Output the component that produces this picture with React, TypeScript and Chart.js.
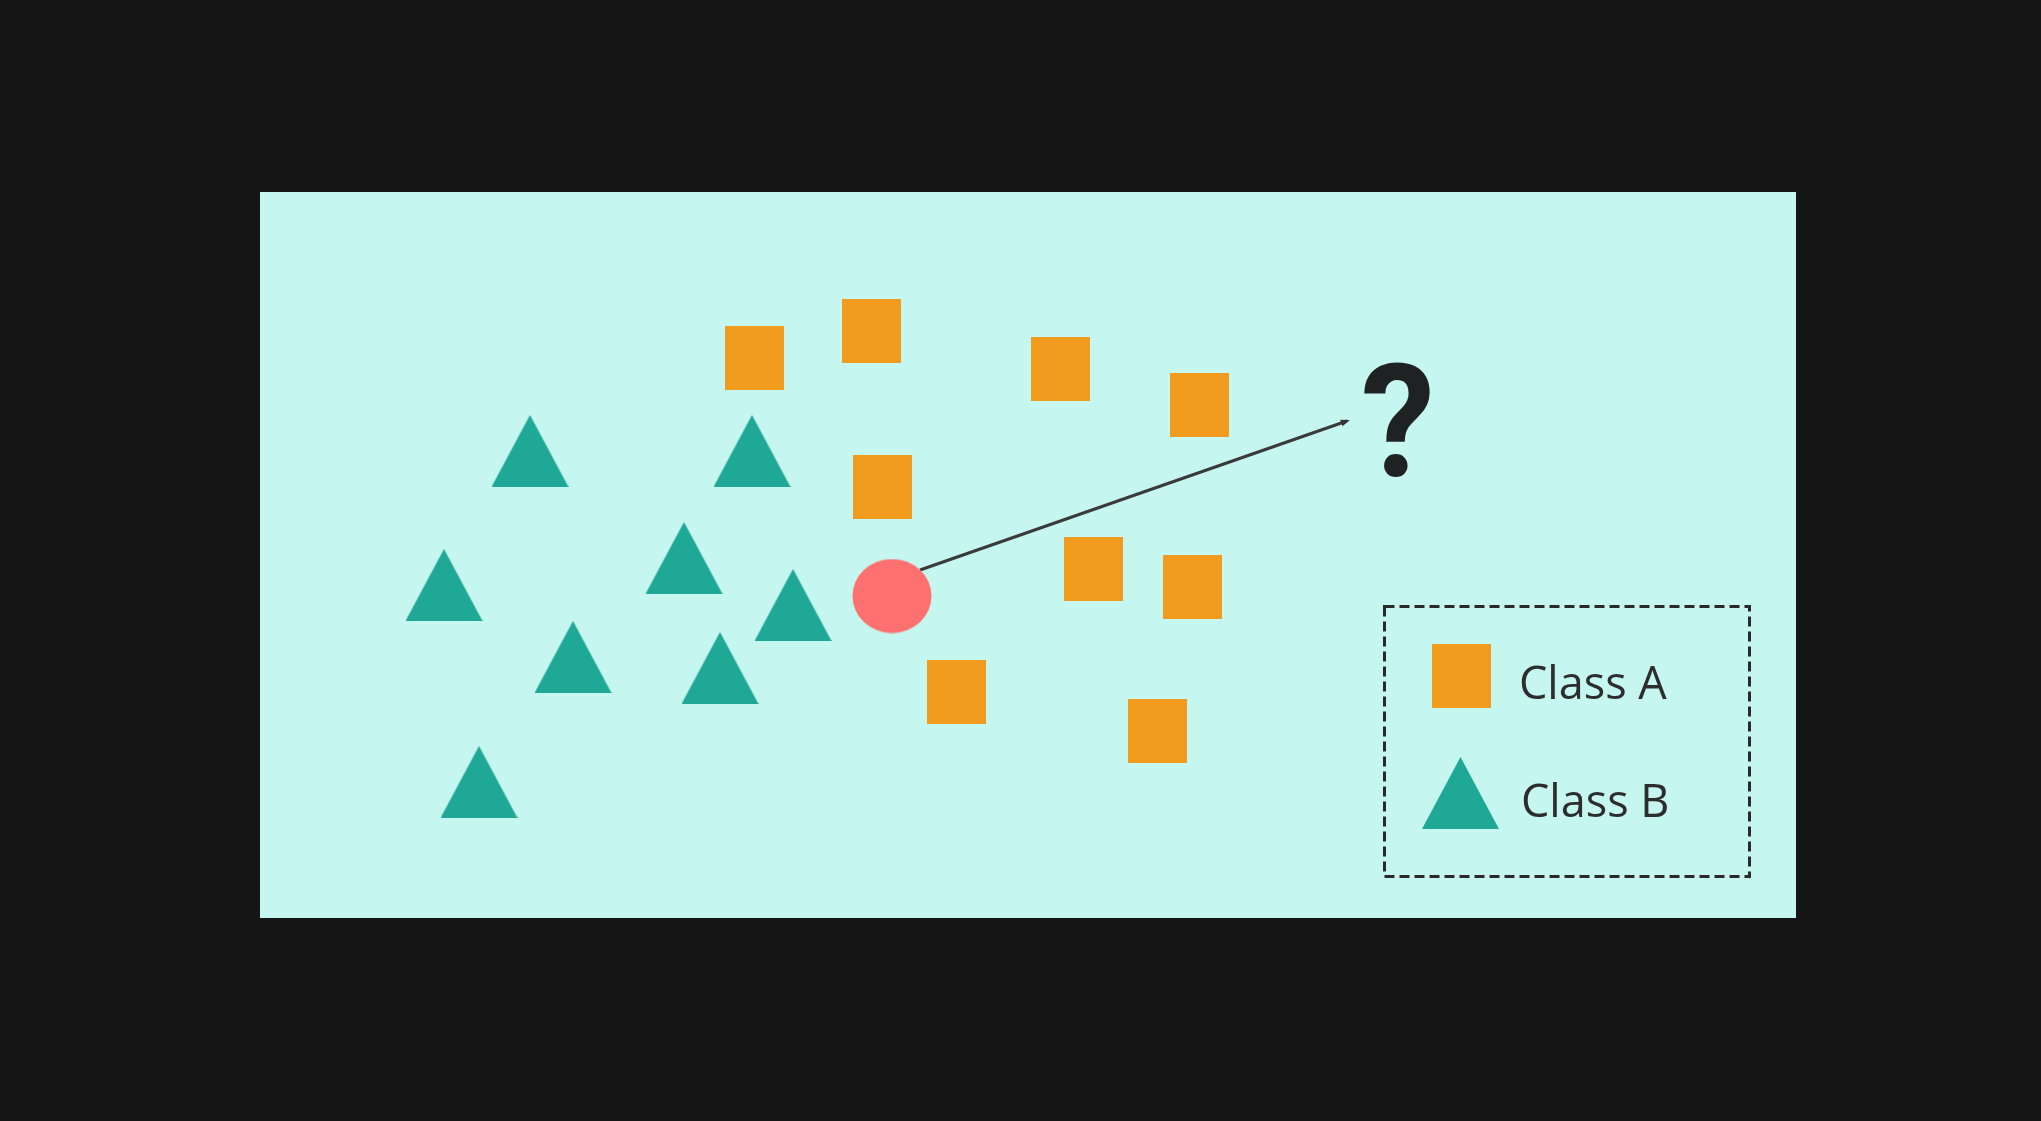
import React, { useEffect, useRef } from "react";
import { Chart, registerables } from "chart.js";

Chart.register(...registerables);

// Diagram values (panel units, origin at the top-left of the mint panel, y grows downward)
const classAX = [494, 611, 800, 939, 622, 833, 932, 696, 897];
const classAY = [166, 139, 177, 213, 295, 377, 395, 500, 539];
const classBX = [270, 492, 184, 424, 533, 313, 460, 219];
const classBY = [259, 259, 393, 366, 413, 465, 476, 590];
const queryX = [632];
const queryY = [404];
const arrowX = [660, 1087];
const arrowY = [378, 229];
const legendLabels = ["Class A", "Class B"];
const unknownLabel = "?";

const COLOR_A = "#f29c1f";
const COLOR_B = "#1fa896";
const COLOR_Q = "#ff7070";
const PANEL_BG = "#c5f6ef";
const PAGE_BG = "#151515";

function makeSquare(): HTMLCanvasElement {
  const c = document.createElement("canvas");
  c.width = 59;
  c.height = 64;
  const g = c.getContext("2d")!;
  g.fillStyle = COLOR_A;
  g.fillRect(0, 0, 59, 64);
  return c;
}

function makeTriangle(): HTMLCanvasElement {
  const c = document.createElement("canvas");
  c.width = 77;
  c.height = 72;
  const g = c.getContext("2d")!;
  g.fillStyle = COLOR_B;
  g.beginPath();
  g.moveTo(38.5, 0);
  g.lineTo(77, 72);
  g.lineTo(0, 72);
  g.closePath();
  g.fill();
  return c;
}

function makeEllipse(): HTMLCanvasElement {
  const c = document.createElement("canvas");
  c.width = 80;
  c.height = 75;
  const g = c.getContext("2d")!;
  g.fillStyle = COLOR_Q;
  g.beginPath();
  g.ellipse(40, 37.5, 39.5, 37, 0, 0, Math.PI * 2);
  g.fill();
  return c;
}

export default function App() {
  const ref = useRef<HTMLCanvasElement | null>(null);

  useEffect(() => {
    if (!ref.current) return;
    const sq = makeSquare();
    const tri = makeTriangle();
    const ell = makeEllipse();

    const panelPlugin = {
      id: "panelBg",
      beforeDraw(chart: any) {
        const { ctx, chartArea: a } = chart;
        ctx.save();
        ctx.fillStyle = PANEL_BG;
        ctx.fillRect(a.left, a.top, a.right - a.left, a.bottom - a.top);
        ctx.restore();
      },
    };

    const extrasPlugin = {
      id: "extras",
      afterDatasetsDraw(chart: any) {
        const { ctx, chartArea: a } = chart;
        const xs = chart.scales.x;
        const ys = chart.scales.y;
        // arrow head
        const x0 = xs.getPixelForValue(arrowX[0]);
        const y0 = ys.getPixelForValue(arrowY[0]);
        const x1 = xs.getPixelForValue(arrowX[1]);
        const y1 = ys.getPixelForValue(arrowY[1]);
        const ang = Math.atan2(y1 - y0, x1 - x0);
        ctx.save();
        ctx.translate(x1, y1);
        ctx.rotate(ang);
        ctx.fillStyle = "#333333";
        ctx.beginPath();
        ctx.moveTo(3, 0);
        ctx.lineTo(-6, -3.5);
        ctx.lineTo(-6, 3.5);
        ctx.closePath();
        ctx.fill();
        ctx.restore();

        // question mark
        ctx.save();
        ctx.fillStyle = "#1f2223";
        ctx.font = "bold 158px Roboto";
        ctx.textAlign = "center";
        ctx.textBaseline = "alphabetic";
        ctx.translate(a.left + 1138, a.top + 284);
        ctx.scale(0.94, 1);
        ctx.fillText(unknownLabel, 0, 0);
        ctx.restore();

        // legend box
        const L = a.left;
        const T = a.top;
        ctx.save();
        ctx.strokeStyle = "#2a2a2a";
        ctx.lineWidth = 3;
        ctx.setLineDash([10, 5]);
        ctx.strokeRect(L + 1124.5, T + 414.5, 365, 270);
        ctx.setLineDash([]);
        ctx.drawImage(sq, L + 1172, T + 452);
        ctx.drawImage(tri, L + 1162, T + 565);
        ctx.fillStyle = "#2d2d2d";
        ctx.font = "45px 'Open Sans'";
        ctx.textAlign = "left";
        ctx.textBaseline = "alphabetic";
        ctx.fillText(legendLabels[0], L + 1259, T + 507);
        ctx.fillText(legendLabels[1], L + 1261, T + 625);
        ctx.restore();
      },
    };

    const chart = new Chart(ref.current, {
      type: "scatter",
      data: {
        datasets: [
          {
            label: "arrow",
            data: arrowX.map((x, i) => ({ x, y: arrowY[i] })),
            showLine: true,
            borderColor: "#3a3a3a",
            borderWidth: 3,
            pointRadius: 0,
            order: 10,
          } as any,
          {
            label: legendLabels[0],
            data: classAX.map((x, i) => ({ x, y: classAY[i] })),
            pointStyle: sq,
            pointRadius: 30,
            order: 1,
          },
          {
            label: legendLabels[1],
            data: classBX.map((x, i) => ({ x, y: classBY[i] })),
            pointStyle: tri,
            pointRadius: 30,
            order: 1,
          },
          {
            label: "query",
            data: queryX.map((x, i) => ({ x, y: queryY[i] })),
            pointStyle: ell,
            pointRadius: 30,
            order: 0,
          },
        ],
      },
      options: {
        animation: false,
        responsive: false,
        devicePixelRatio: 1,
        events: [],
        layout: { padding: { left: 260, top: 192, right: 245, bottom: 203 } },
        scales: {
          x: { type: "linear", min: 0, max: 1536, display: false },
          y: { type: "linear", min: 0, max: 726, reverse: true, display: false },
        },
        plugins: {
          legend: { display: false },
          tooltip: { enabled: false },
        },
      },
      plugins: [panelPlugin, extrasPlugin],
    });

    const fonts: any = (document as any).fonts;
    if (fonts && fonts.ready) {
      fonts.ready.then(() => {
        try {
          chart.update();
        } catch (e) {}
      });
    }

    return () => chart.destroy();
  }, []);

  return (
    <div
      style={{
        position: "fixed",
        left: 0,
        top: 0,
        width: 2041,
        height: 1121,
        background: PAGE_BG,
      }}
    >
      <canvas ref={ref} width={2041} height={1121} style={{ display: "block" }} />
    </div>
  );
}
